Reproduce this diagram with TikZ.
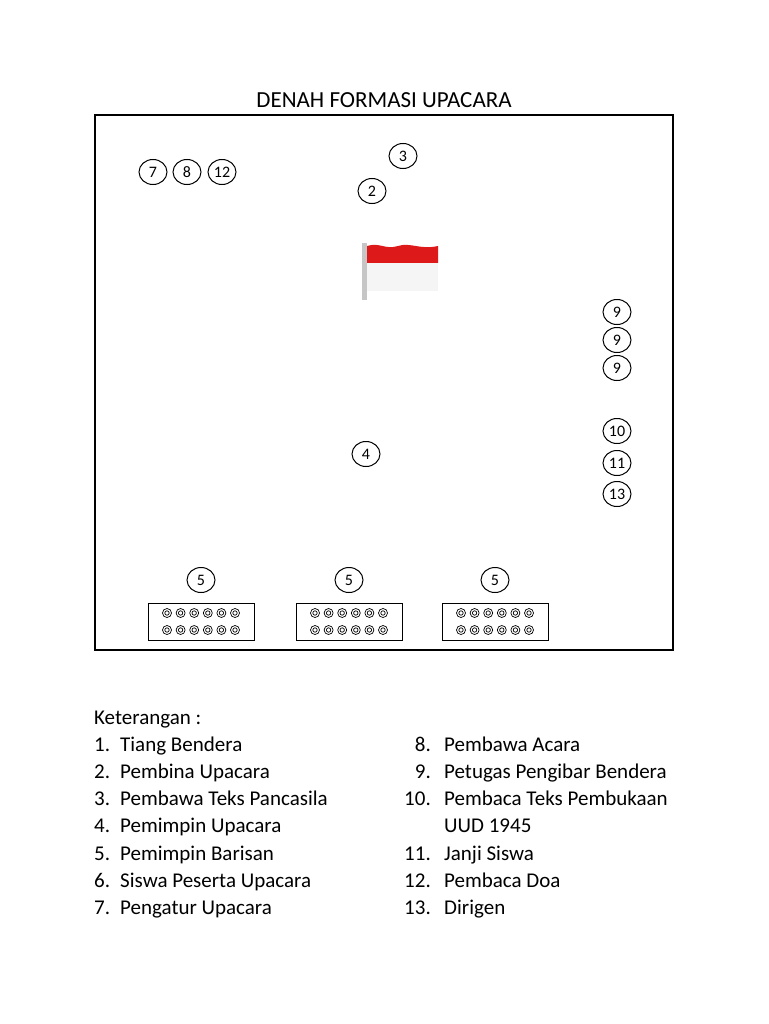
\documentclass[tikz,border=0pt]{standalone}
\usepackage{fontspec}
\setmainfont{Carlito}
\usetikzlibrary{shapes.geometric}
\begin{document}
\begin{tikzpicture}[x=1pt,y=-1pt,
  role/.style={ellipse,draw,line width=1pt,minimum width=28pt,minimum height=25pt,inner sep=0pt,font=\fontsize{16}{18}\selectfont},
  grp/.style={draw,line width=0.9pt,minimum width=106pt,minimum height=37pt,inner sep=0pt},
  dot/.style={circle,draw,line width=0.7pt,minimum size=9pt,inner sep=0pt},
  leg/.style={anchor=base west,font=\fontsize{21}{24}\selectfont,inner sep=0pt}]
\useasboundingbox (0,0) rectangle (768,1024);
\node[anchor=base] (title) at (384,108) {\fontsize{23}{26}\selectfont DENAH FORMASI UPACARA};
\draw[line width=2.4pt] (95,115) rectangle (673,650);
% flag
\fill[gray!45] (362,243) rectangle (367,300);
\fill[red!85!black!90] (367,246) .. controls (380,242) and (385,250) .. (398,246) .. controls (410,242) and (420,250) .. (438,246) -- (438,263) -- (367,263) -- cycle;
\fill[white!92!gray] (367,263) rectangle (438,291);
\node[role] (p3) at (403,156) {3};
\node[role] (p2) at (372,191) {2};
\node[role] (p7) at (153,172) {7};
\node[role] (p8) at (187,172) {8};
\node[role] (p12) at (222,172) {12};
\node[role] (p9a) at (617,312) {9};
\node[role] (p9b) at (617,340) {9};
\node[role] (p9c) at (617,368) {9};
\node[role] (p10) at (617,431) {10};
\node[role] (p11) at (617,463) {11};
\node[role] (p13) at (617,494) {13};
\node[role] (p4) at (366,454) {4};
\foreach \cx/\n in {201/a,349/b,495/c}{
  \node[role] (l\n) at (\cx,580) {5};
  \node[grp] (g\n) at (\cx,622) {};
  \foreach \i in {0,...,5}{
    \node[dot] (d\n1\i) at (\cx-34+\i*13.6,613) {};
    \draw[line width=0.7pt] (d\n1\i) circle (2.2pt);
    \node[dot] (d\n2\i) at (\cx-34+\i*13.6,630) {};
    \draw[line width=0.7pt] (d\n2\i) circle (2.2pt);
  }
}
\node[leg] (ket) at (94,724) {Keterangan :};
\foreach \y/\t [count=\k] in {751/Tiang Bendera,778/Pembina Upacara,805/Pembawa Teks Pancasila,832/Pemimpin Upacara,860/Pemimpin Barisan,887/Siswa Peserta Upacara,914/Pengatur Upacara}{
  \node[leg] (n\k) at (94,\y) {\k.};
  \node[leg] (t\k) at (120,\y) {\t};
}
\foreach \y/\k/\t in {751/8/Pembawa Acara,778/9/Petugas Pengibar Bendera,805/10/Pembaca Teks Pembukaan,860/11/Janji Siswa,887/12/Pembaca Doa,914/13/Dirigen}{
  \node[leg,anchor=base east] (m\k) at (431,\y) {\k.};
  \node[leg] (u\k) at (444,\y) {\t};
}
\node[leg] (uud) at (444,832) {UUD 1945};
\end{tikzpicture}
\end{document}
